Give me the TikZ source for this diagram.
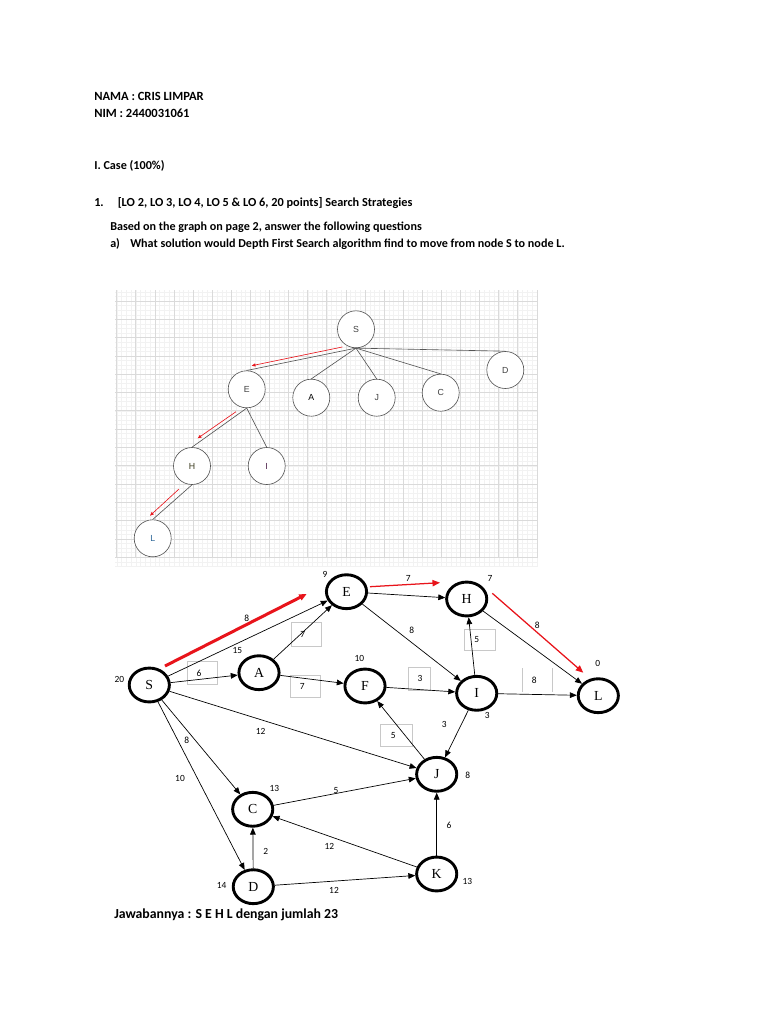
\documentclass[tikz,border=0pt]{standalone}
\usepackage{fontspec}
\setmainfont{Carlito}
\newfontfamily\graphfont{Liberation Serif}
\newfontfamily\treefont{Liberation Sans}
\usetikzlibrary{arrows.meta,shapes.geometric,calc}
\definecolor{gridmajor}{HTML}{DADADA}
\definecolor{gridminor}{HTML}{F2F2F2}
\definecolor{treeline}{HTML}{555555}
\definecolor{treetext}{HTML}{404040}
\definecolor{treeH}{HTML}{3B3B1E}
\definecolor{treeI}{HTML}{4A1E48}
\definecolor{treeL}{HTML}{2A6496}
\definecolor{boxrule}{HTML}{C8C8C8}
\definecolor{pathred}{HTML}{E8141B}

\begin{document}
\begin{tikzpicture}[x=0.796875pt,y=-0.796875pt,
  every node/.style={inner sep=0pt},
  doc/.style={anchor=base west,font=\bfseries\fontsize{#1}{13}\selectfont},
  doc/.default=11,
  treenode/.style={circle,draw=treeline,fill=white,line width=0.5pt,
                   minimum size=29.5pt,font=\treefont\fontsize{7}{8}\selectfont},
  treeedge/.style={draw=treeline,line width=0.5pt},
  treered/.style={draw=pathred,line width=0.5pt,-{Triangle[length=3pt,width=2.4pt]}},
  gnode/.style={ellipse,draw,line width=2.3pt,fill=white,minimum width=32pt,
                minimum height=27pt,font=\graphfont\fontsize{11}{12}\selectfont},
  gedge/.style={line width=0.55pt,-{Triangle[length=5.5pt,width=4.5pt]}},
  wlabel/.style={font=\fontsize{7.5}{8}\selectfont},
  wbox/.style={draw=boxrule,line width=0.6pt},
  redpath/.style={draw=pathred,-{Triangle[length=6pt,width=5pt]}}
]
  \fill[white] (0,0) rectangle (768,1024);
  \useasboundingbox (0,0) rectangle (768,1024);

  % header text
  \node[doc=10] (nama) at (94,100) {NAMA : CRIS LIMPAR};
  \node[doc=10] (nim) at (94,117.5) {NIM : 2440031061};
  \node[doc=9.7] (case) at (94,169) {I. Case (100\%)};
  \node[doc=9.8] (num) at (94,206) {1.};
  \node[doc=9.8] (lo) at (117.5,206) {[LO 2, LO 3, LO 4, LO 5 \& LO 6, 20 points] Search Strategies};
  \node[doc=9.65] (based) at (110,230) {Based on the graph on page 2, answer the following questions};
  \node[doc=9.65] (qa) at (110,247.5) {a)};
  \node[doc=9.65] (qtext) at (130,247.5) {What solution would Depth First Search algorithm find to move from node S to node L.};

  % grid behind the search tree
  \begin{scope}
    \clip (115,290) rectangle (538,566);
    \foreach \k in {-4,...,90}
      {\draw[gridminor,line width=0.3pt] ({116.7+4.775*\k},290) -- ++(0,276);}
    \foreach \k in {-4,...,64}
      {\draw[gridminor,line width=0.3pt] (115,{301+4.575*\k}) -- ++(423,0);}
    \foreach \k in {0,...,22}
      {\draw[gridmajor,line width=0.5pt] ({116.7+19.1*\k},290) -- ++(0,268);}
    \foreach \k in {0,...,14}
      {\draw[gridmajor,line width=0.5pt] (115,{301+18.3*\k}) -- ++(423,0);}
  \end{scope}

  % search tree
  \foreach \n/\x/\y/\col in {S/356/329.3/treetext, E/246.7/389.3/treetext,
      A/311.3/397.7/black, J/376.7/397.7/treetext, C/440.7/392.7/treetext,
      D/505.3/370/treetext, H/192/466/treeH, I/266.7/466/treeI, L/152.7/538.3/treeL}
    {\node[treenode,text=\col] (t\n) at (\x,\y) {\n};}
  \foreach \c in {E,A,J,C,D}
    {\draw[treeedge] (tS.south) -- (t\c.north);}
  \draw[treeedge] (tE.south) -- (tH.north);
  \draw[treeedge] (tE.south) -- (tI.north);
  \draw[treeedge] (tH.south) -- (tL.north);
  \draw[treered] (342.3,347) -- (251.7,365.7);
  \draw[treered] (236,411.7) -- (197.7,438.3);
  \draw[treered] (179,489) -- (150,515.7);

  % weighted graph
  \foreach \n/\x/\y in {S/149.3/685, A/259/672.7, E/346.5/591.7, H/466.7/599,
      F/365/686, I/476.7/693.3, L/598.3/695.7, J/436.7/774.3, K/436.7/874,
      C/252.7/809.3, D/253.3/886.7}
    {\node[gnode] (\n) at (\x,\y) {\n};}

  % heuristic values
  \foreach \n/\h/\x/\y in {S/20/119.3/679.3, A/15/237.3/650, E/9/325/574,
      H/7/490/578.3, F/10/359.3/658.3, I/3/487.3/715.7, L/0/597.7/663.3,
      J/8/467.7/775, K/13/467.3/881, C/13/274.3/788.3, D/14/221.7/885.7}
    {\node[wlabel] (h\n) at (\x,\y) {\h};}

  % boxes round some weights
  \foreach \xa/\ya/\xb/\yb in {187.3/661.7/217.3/684, 291/622.7/321.7/646,
      290/675/320.7/697.3, 464.3/629.3/495/650.7, 408.3/667.3/430/690,
      380.7/724.3/412.3/746.7}
    {\draw[wbox] (\xa,\ya) rectangle (\xb,\yb);}
  \draw[wbox] (522.3,668.3) -- (522.3,691.7);
  \draw[wbox] (552.3,668.3) -- (552.3,691.7);

  % edges and weights
  \foreach \a/\b/\w/\x/\y in {S/E/8/246.7/618.3, S/A/6/199/673.3, A/E/7/302.7/634,
      A/F/7/302.3/686.7, E/H/7/408.3/578.3, E/I/8/411.7/630, F/I/3/420/678.3,
      I/H/5/476.7/640, H/L/8/537.3/625, I/L/8/534.3/680, I/J/3/444.3/724.3,
      J/F/5/393.3/735.7, S/J/12/260.7/731.7, S/C/8/186.7/740, S/D/10/180/778.3,
      C/J/5/336/790.7, K/C/12/329.3/846, D/C/2/265.7/851, D/K/12/334/890,
      K/J/6/449/825.3}
    {\draw[gedge] (\a) -- (\b);
     \node[wlabel] (w\a\b) at (\x,\y) {\w};}

  % path found
  \draw[redpath,line width=2.4pt] (165,666) -- (306.7,594);
  \draw[redpath,line width=1pt] (370,586.7) -- (440,582.7);
  \draw[redpath,line width=1pt] (492.3,593.3) -- (583.3,672.7);

  \node[doc] (answer) at (114,918.5) {Jawabannya : S E H L dengan jumlah 23};
\end{tikzpicture}
\end{document}
